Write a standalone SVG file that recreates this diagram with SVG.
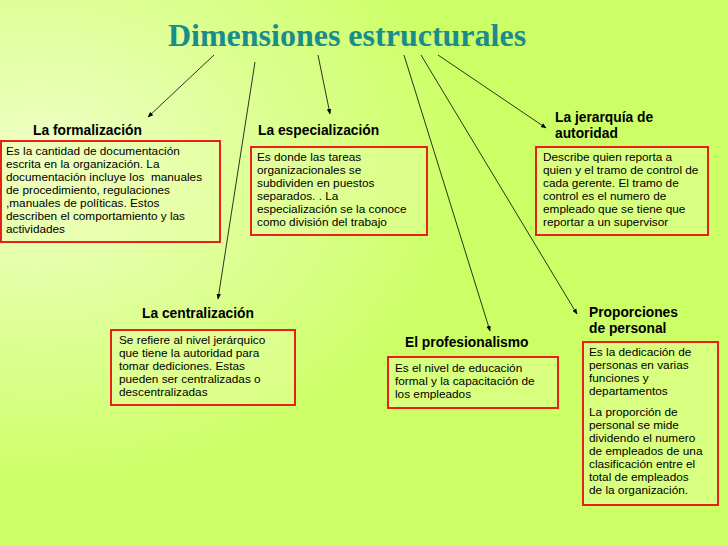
<svg xmlns="http://www.w3.org/2000/svg" width="728" height="546" viewBox="0 0 728 546">
<defs>
<radialGradient id="bg" cx="0.05" cy="0.3" r="0.6">
<stop offset="0" stop-color="#f0ffc8"/><stop offset="1" stop-color="#ccff66"/>
</radialGradient>
<marker id="ah" viewBox="0 0 10 10" refX="9" refY="5" markerWidth="7" markerHeight="7" orient="auto"><path d="M0,1 L10,5 L0,9 z" fill="#000"/></marker>
<style>
.box{fill:#eeffb0;fill-opacity:0.35;stroke:#e8201a;stroke-width:2}
.h{font-family:"Liberation Sans",Arial,sans-serif;font-size:13.8px;font-weight:bold;fill:#000}
.t{font-family:"Liberation Sans",Arial,sans-serif;font-size:11.8px;fill:#000}
.c line{stroke:#000;stroke-width:0.8;marker-end:url(#ah)}
</style>
</defs>
<rect width="728" height="546" fill="url(#bg)"/>
<text x="347" y="46" text-anchor="middle" font-family="Liberation Serif,serif" font-size="32" font-weight="bold" fill="#1a8c8c">Dimensiones estructurales</text>
<g class="c" id="connectors">
<line x1="214" y1="55" x2="148" y2="117"/>
<line x1="255" y1="62" x2="218" y2="299"/>
<line x1="318" y1="55" x2="330" y2="114"/>
<line x1="404" y1="55" x2="490" y2="331"/>
<line x1="421" y1="55" x2="577" y2="314"/>
<line x1="438" y1="55" x2="546" y2="128"/>
</g>
<g id="formalizacion">
<text class="h" x="33" y="135">La formalización</text>
<rect class="box" x="1" y="141" width="219" height="101"/>
<text class="t" xml:space="preserve"><tspan x="6" y="155">Es la cantidad de documentación</tspan><tspan x="6" y="168">escrita en la organización. La</tspan><tspan x="6" y="181">documentación incluye los  manuales</tspan><tspan x="6" y="194">de procedimiento, regulaciones</tspan><tspan x="6" y="207">,manuales de políticas. Estos</tspan><tspan x="6" y="220">describen el comportamiento y las</tspan><tspan x="6" y="233">actividades</tspan></text>
</g>
<g id="especializacion">
<text class="h" x="258" y="135">La especialización</text>
<rect class="box" x="251" y="147" width="176" height="88"/>
<text class="t"><tspan x="257" y="161">Es donde las tareas</tspan><tspan x="257" y="174">organizacionales se</tspan><tspan x="257" y="187">subdividen en puestos</tspan><tspan x="257" y="200">separados. . La</tspan><tspan x="257" y="213">especialización se la conoce</tspan><tspan x="257" y="226">como división del trabajo</tspan></text>
</g>
<g id="jerarquia">
<text class="h"><tspan x="555" y="122">La jerarquía de</tspan><tspan x="555" y="138">autoridad</tspan></text>
<rect class="box" x="536" y="147" width="172" height="88"/>
<text class="t"><tspan x="543" y="161">Describe quien reporta a</tspan><tspan x="543" y="174">quien y el tramo de control de</tspan><tspan x="543" y="187">cada gerente. El tramo de</tspan><tspan x="543" y="200">control es el numero de</tspan><tspan x="543" y="213">empleado que se tiene que</tspan><tspan x="543" y="226">reportar a un supervisor</tspan></text>
</g>
<g id="centralizacion">
<text class="h" x="142" y="318">La centralización</text>
<rect class="box" x="111" y="330" width="184" height="75"/>
<text class="t"><tspan x="119" y="344">Se refiere al nivel jerárquico</tspan><tspan x="119" y="357">que tiene la autoridad para</tspan><tspan x="119" y="370">tomar dediciones. Estas</tspan><tspan x="119" y="383">pueden ser centralizadas o</tspan><tspan x="119" y="396">descentralizadas</tspan></text>
</g>
<g id="profesionalismo">
<text class="h" x="405" y="347">El profesionalismo</text>
<rect class="box" x="388" y="357" width="170" height="51"/>
<text class="t"><tspan x="395" y="372">Es el nivel de educación</tspan><tspan x="395" y="385">formal y la capacitación de</tspan><tspan x="395" y="398">los empleados</tspan></text>
</g>
<g id="proporciones">
<text class="h"><tspan x="589" y="317">Proporciones</tspan><tspan x="589" y="333">de personal</tspan></text>
<rect class="box" x="583" y="342" width="135" height="163"/>
<text class="t"><tspan x="589" y="356">Es la dedicación de</tspan><tspan x="589" y="369">personas en varias</tspan><tspan x="589" y="382">funciones y</tspan><tspan x="589" y="395">departamentos</tspan><tspan x="589" y="416">La proporción de</tspan><tspan x="589" y="429">personal se mide</tspan><tspan x="589" y="442">dividendo el numero</tspan><tspan x="589" y="455">de empleados de una</tspan><tspan x="589" y="468">clasificación entre el</tspan><tspan x="589" y="481">total de empleados</tspan><tspan x="589" y="494">de la organización.</tspan></text>
</g>
</svg>
